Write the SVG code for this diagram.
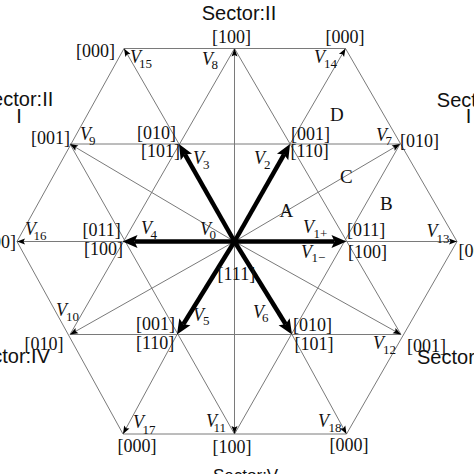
<svg xmlns="http://www.w3.org/2000/svg" width="474" height="474" viewBox="0 0 474 474">
<style>
.g{stroke:#7a7a7a;stroke-width:1;fill:none}
.ga{stroke:#7a7a7a;stroke-width:1;fill:none;marker-end:url(#ah)}
.tk{stroke:#000;stroke-width:4.5;fill:none;marker-end:url(#th)}
text{font-family:"Liberation Serif","Times New Roman",serif;fill:#111}
.b{font-size:18px}
.v{font-size:18px;font-style:italic}
.s{font-size:13px}
.l{font-size:19px}
.sec{font-family:"Liberation Sans",Arial,sans-serif;font-size:20px}
</style>
<defs>
<marker id="ah" markerUnits="userSpaceOnUse" markerWidth="10" markerHeight="8" refX="8" refY="3" orient="auto" overflow="visible">
<path d="M0,0 L8,3 L0,6 L1.5,3 z" fill="#000"/>
</marker>
<marker id="th" markerUnits="userSpaceOnUse" markerWidth="18" markerHeight="14" refX="3" refY="6.5" orient="auto" overflow="visible">
<path d="M0,0 L15,6.5 L0,13 L3,6.5 z" fill="#000"/>
</marker>
</defs>
<g id="connectors">
<line class="g" x1="124" y1="48.5" x2="345.5" y2="48.5"/>
<line class="g" x1="345.5" y1="48.5" x2="457" y2="241.5"/>
<line class="g" x1="457" y1="241.5" x2="346.5" y2="434"/>
<line class="g" x1="346.5" y1="434" x2="123" y2="434"/>
<line class="g" x1="123" y1="434" x2="17" y2="241.5"/>
<line class="g" x1="17" y1="241.5" x2="124" y2="48.5"/>
<line class="g" x1="70" y1="144" x2="400" y2="144"/>
<line class="g" x1="70" y1="334.5" x2="401" y2="334.5"/>
<line class="g" x1="70" y1="334.5" x2="234.5" y2="48.5"/>
<line class="g" x1="234.5" y1="434" x2="400" y2="144"/>
<line class="g" x1="401" y1="334.5" x2="234.5" y2="48.5"/>
<line class="g" x1="234.5" y1="434" x2="70" y2="144"/>
<line class="ga" x1="346.5" y1="241.5" x2="457" y2="241.5"/>
<line class="ga" x1="122.5" y1="241.5" x2="17" y2="241.5"/>
<line class="ga" x1="234.5" y1="241.5" x2="234.5" y2="48.5"/>
<line class="ga" x1="234.5" y1="241.5" x2="234.5" y2="434"/>
<line class="ga" x1="290" y1="144" x2="345.5" y2="48.5"/>
<line class="ga" x1="179" y1="144" x2="124" y2="48.5"/>
<line class="ga" x1="177" y1="334.5" x2="123" y2="434"/>
<line class="ga" x1="292" y1="334.5" x2="346.5" y2="434"/>
<line class="ga" x1="234.5" y1="241.5" x2="400" y2="144"/>
<line class="ga" x1="234.5" y1="241.5" x2="70" y2="144"/>
<line class="ga" x1="234.5" y1="241.5" x2="70" y2="334.5"/>
<line class="ga" x1="234.5" y1="241.5" x2="401" y2="334.5"/>
<line class="tk" x1="234.5" y1="241.5" x2="334.5" y2="241.5"/>
<line class="tk" x1="234.5" y1="241.5" x2="134.5" y2="241.5"/>
<line class="tk" x1="234.5" y1="241.5" x2="284.1" y2="154.4"/>
<line class="tk" x1="234.5" y1="241.5" x2="184.9" y2="154.4"/>
<line class="tk" x1="234.5" y1="241.5" x2="183.3" y2="324.3"/>
<line class="tk" x1="234.5" y1="241.5" x2="285.7" y2="324.3"/>
<circle cx="234.5" cy="241.5" r="3" fill="#000"/>
</g>
<g id="n-v0"><text class="v" x="200" y="235">V</text><text class="s" x="209.5" y="238.5">0</text><text class="b" x="217.5" y="280">[111]</text></g>
<g id="n-v1"><text class="v" x="303" y="233">V</text><text class="s" x="313.5" y="237.5">1+</text><text class="v" x="301" y="258">V</text><text class="s" x="311.5" y="262">1−</text><text class="b" x="347" y="236">[011]</text><text class="b" x="348" y="258">[100]</text></g>
<g id="n-v2"><text class="v" x="254" y="164">V</text><text class="s" x="264" y="169">2</text><text class="b" x="291" y="140">[001]</text><text class="b" x="290.5" y="157">[110]</text></g>
<g id="n-v3"><text class="v" x="193" y="164">V</text><text class="s" x="203" y="169">3</text><text class="b" x="137" y="139">[010]</text><text class="b" x="141" y="157">[101]</text></g>
<g id="n-v4"><text class="v" x="141" y="234">V</text><text class="s" x="150.5" y="238.5">4</text><text class="b" x="82.5" y="236">[011]</text><text class="b" x="84" y="254.5">[100]</text></g>
<g id="n-v5"><text class="v" x="193" y="321">V</text><text class="s" x="203" y="325">5</text><text class="b" x="136" y="330">[001]</text><text class="b" x="136" y="349">[110]</text></g>
<g id="n-v6"><text class="v" x="253" y="318">V</text><text class="s" x="262" y="322">6</text><text class="b" x="293" y="331">[010]</text><text class="b" x="294.5" y="350">[101]</text></g>
<g id="n-v7"><text class="v" x="376" y="141">V</text><text class="s" x="385.5" y="145">7</text><text class="b" x="400" y="147">[010]</text></g>
<g id="n-v8"><text class="v" x="202" y="65">V</text><text class="s" x="211.5" y="69">8</text><text class="b" x="212" y="43">[100]</text></g>
<g id="n-v9"><text class="v" x="80" y="140">V</text><text class="s" x="89" y="144.5">9</text><text class="b" x="31" y="144">[001]</text></g>
<g id="n-v10"><text class="v" x="56" y="316">V</text><text class="s" x="66" y="321">10</text><text class="b" x="24.5" y="350">[010]</text></g>
<g id="n-v11"><text class="v" x="206" y="427">V</text><text class="s" x="213.5" y="432">11</text><text class="b" x="212.5" y="453">[100]</text></g>
<g id="n-v12"><text class="v" x="373" y="349">V</text><text class="s" x="383" y="354">12</text><text class="b" x="407" y="352">[001]</text></g>
<g id="n-v13"><text class="v" x="426.5" y="237">V</text><text class="s" x="436.5" y="242.5">13</text><text class="b" x="458.5" y="257">[000]</text></g>
<g id="n-v14"><text class="v" x="314" y="63">V</text><text class="s" x="324" y="68">14</text><text class="b" x="325.5" y="43">[000]</text></g>
<g id="n-v15"><text class="v" x="130" y="63">V</text><text class="s" x="139" y="68">15</text><text class="b" x="76" y="57">[000]</text></g>
<g id="n-v16"><text class="v" x="25" y="235">V</text><text class="s" x="33.5" y="239.5">16</text><text class="b" x="16" y="248" text-anchor="end">[000]</text></g>
<g id="n-v17"><text class="v" x="133" y="428">V</text><text class="s" x="142.5" y="434">17</text><text class="b" x="117.5" y="452">[000]</text></g>
<g id="n-v18"><text class="v" x="318" y="427">V</text><text class="s" x="328.5" y="432">18</text><text class="b" x="329.5" y="451">[000]</text></g>
<g id="regions"><text class="l" x="279.5" y="217">A</text><text class="l" x="380" y="210">B</text><text class="l" x="340" y="183">C</text><text class="l" x="330" y="121">D</text></g>
<g id="sectors">
<text class="sec" x="239" y="20" text-anchor="middle">Sector:II</text>
<text class="sec" text-anchor="middle"><tspan x="16" y="106">Sector:II</tspan><tspan x="19" y="123">I</tspan></text>
<text class="sec" text-anchor="middle"><tspan x="468.5" y="106.5">Sector:</tspan><tspan x="468.5" y="123">I</tspan></text>
<text class="sec" x="50" y="363" text-anchor="end">Sector:IV</text>
<text class="sec" x="213" y="481" style="font-size:17px">Sector:V</text>
<text class="sec" x="417" y="364">Sector:VI</text>
</g>
</svg>
